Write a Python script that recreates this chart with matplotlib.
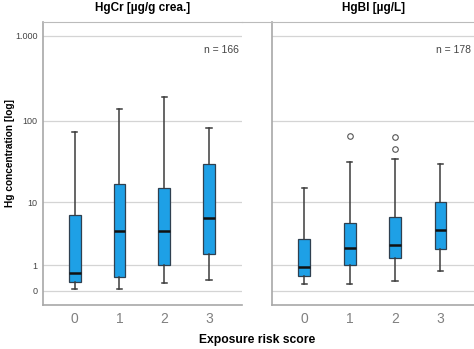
import numpy as np
import matplotlib.pyplot as plt
from matplotlib.lines import Line2D

plt.rcParams['font.family'] = ['Liberation Sans', 'DejaVu Sans']

# values (original units, axis is log10(x+1))
scores = [0, 1, 2, 3]
titles = ['HgCr [µg/g crea.]', 'HgBl [µg/L]']
n_labels = ['n = 166', 'n = 178']

hgcr_whislo = [0.06, 0.06, 0.22, 0.35]
hgcr_q1 = [0.28, 0.46, 1.0, 1.7]
hgcr_med = [0.60, 4.0, 4.0, 6.2]
hgcr_q3 = [6.7, 16.9, 15.2, 29.8]
hgcr_whishi = [74, 137, 190, 82]
hgcr_fliers = [[], [], [], []]

hgbl_whislo = [0.21, 0.21, 0.30, 0.69]
hgbl_q1 = [0.50, 1.0, 1.45, 2.1]
hgbl_med = [0.92, 2.2, 2.5, 4.2]
hgbl_q3 = [3.1, 5.2, 6.4, 10.1]
hgbl_whishi = [15.3, 31.5, 34.3, 30.3]
hgbl_fliers = [[], [66], [46, 63.6], []]

yticks = [0, 1, 10, 100, 1000]
yticklabels = ['0', '1', '10', '100', '1.000']


def fwd(x):
    return np.log10(np.maximum(np.asarray(x, dtype=float) + 1, 1e-9))

def inv(t):
    return 10 ** np.asarray(t, dtype=float) - 1


def make_stats(lo, q1, med, q3, hi, fl):
    return [dict(whislo=lo[i], q1=q1[i], med=med[i], q3=q3[i], whishi=hi[i],
                 fliers=fl[i], label=str(scores[i])) for i in range(len(scores))]


fig = plt.figure(figsize=(4.74, 3.49), dpi=100)
W, H = 474., 349.
ax1 = fig.add_axes([43 / W, 1 - 305 / H, 199 / W, 283 / H])
ax2 = fig.add_axes([272 / W, 1 - 305 / H, 202 / W, 283 / H])

data = [
    make_stats(hgcr_whislo, hgcr_q1, hgcr_med, hgcr_q3, hgcr_whishi, hgcr_fliers),
    make_stats(hgbl_whislo, hgbl_q1, hgbl_med, hgbl_q3, hgbl_whishi, hgbl_fliers),
]

for i, ax in enumerate([ax1, ax2]):
    ax.set_yscale('function', functions=(fwd, inv))
    for yv in yticks:
        ax.axhline(yv, color='#d4d4d4', lw=0.9, zorder=0)
    ax.bxp(data[i], positions=scores, widths=0.26, patch_artist=True,
           boxprops=dict(facecolor='#1ea0e6', edgecolor='#2f4050', lw=0.9),
           medianprops=dict(color='#111111', lw=1.8),
           whiskerprops=dict(color='#3c3c3c', lw=1.1),
           capprops=dict(color='#3c3c3c', lw=1.1),
           capwidths=0.12,
           flierprops=dict(marker='o', markerfacecolor='none', markeredgecolor='#555555',
                           markersize=4, markeredgewidth=0.8))
    ax.set_xlim(-0.71, 3.74)
    ax.set_ylim(inv(-0.168), inv(3.165))
    ax.set_yticks(yticks)
    ax.set_yticklabels(yticklabels if i == 0 else [])
    ax.yaxis.set_minor_locator(plt.NullLocator())
    ax.tick_params(axis='y', length=0, labelsize=6.5, labelcolor='#444444', pad=4)
    ax.tick_params(axis='x', length=0, labelsize=10, labelcolor='#808080', pad=5)
    ax.spines['right'].set_visible(False)
    ax.spines['top'].set_color('#bbbbbb')
    ax.spines['left'].set_color('#a8a8a8')
    ax.spines['bottom'].set_color('#a8a8a8')
    ax.spines['left'].set_linewidth(1.2)
    ax.spines['bottom'].set_linewidth(1.2)
    ax.set_title(titles[i], fontsize=8.5, fontweight='bold', pad=8)
    ax.text(0.985, 0.9, n_labels[i], transform=ax.transAxes, ha='right', va='center',
            fontsize=7.5, color='#444444')

# top frame line across the gap between panels
fig.add_artist(Line2D([242 / W, 272 / W], [1 - 22 / H, 1 - 22 / H], color='#bbbbbb', lw=0.8))

fig.text(10 / W, 1 - 153 / H, 'Hg concentration [log]', rotation=90, ha='center', va='center',
         fontsize=7.3, fontweight='bold')
fig.text(257 / W, 1 - 340 / H, 'Exposure risk score', ha='center', va='center',
         fontsize=8.7, fontweight='bold')

fig.savefig('out.png', dpi=100)
